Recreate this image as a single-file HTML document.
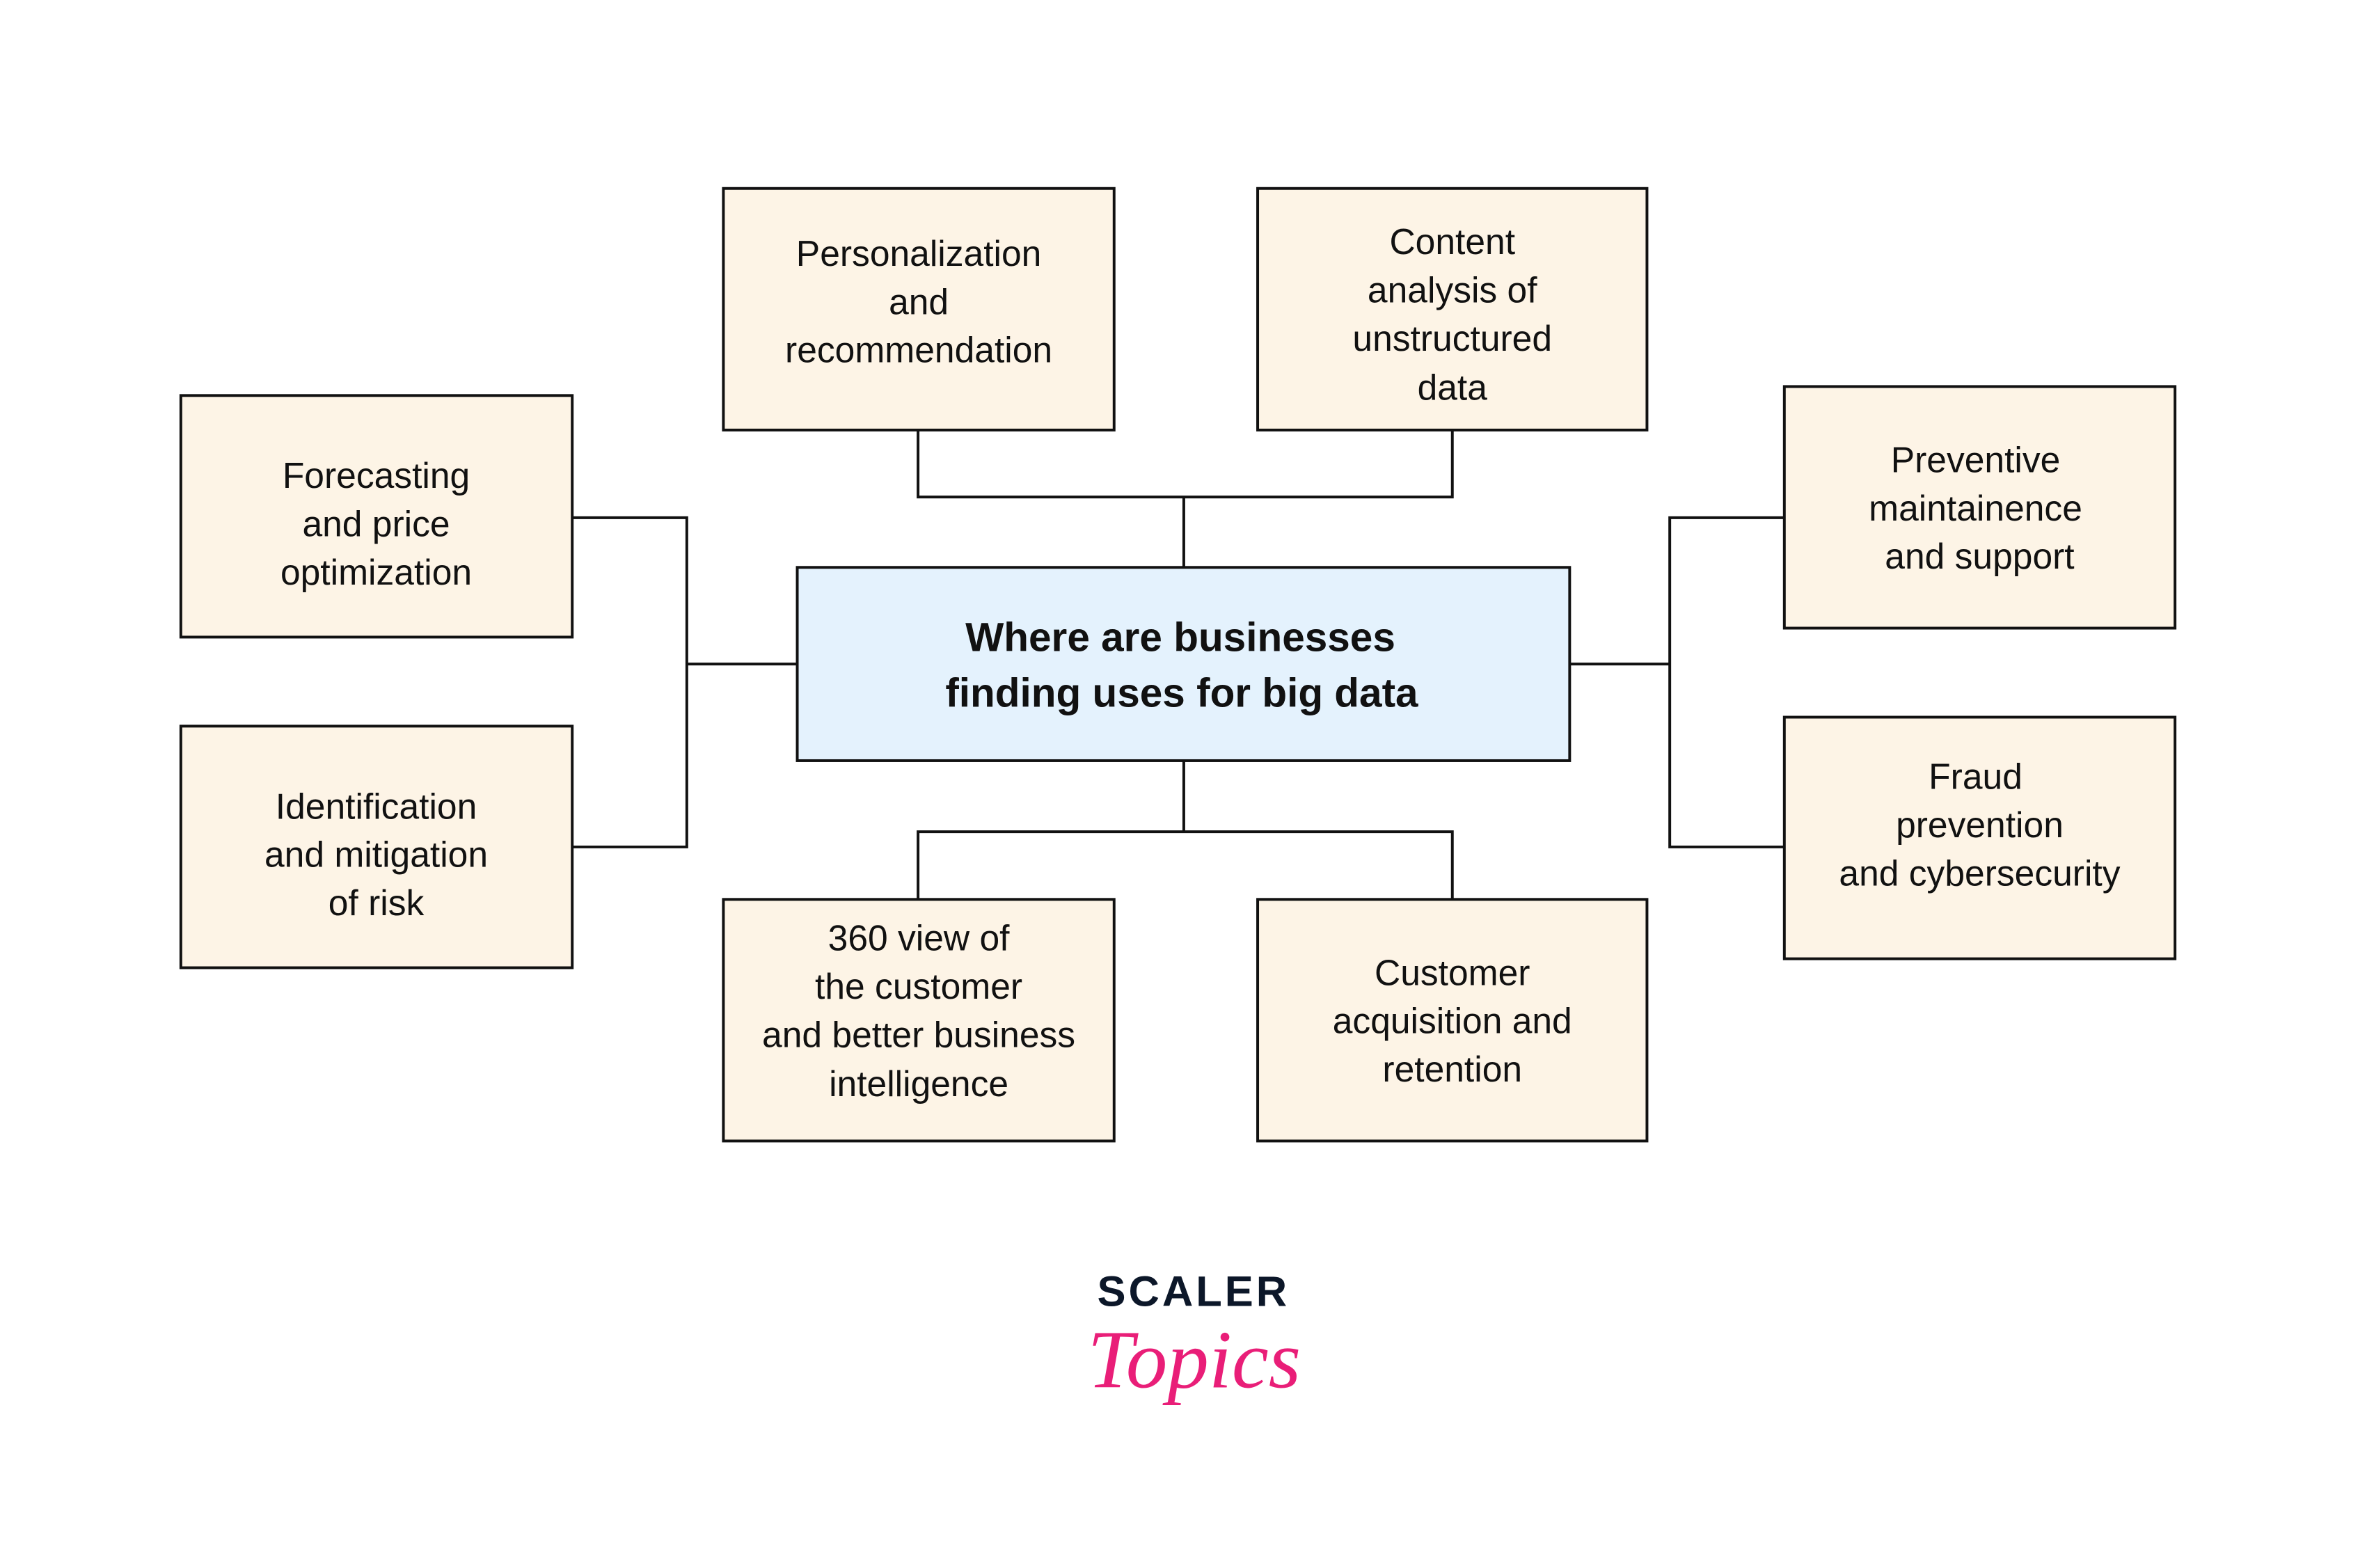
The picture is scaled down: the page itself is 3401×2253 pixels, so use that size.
<!DOCTYPE html>
<html><head><meta charset="utf-8"><style>
html,body{margin:0;padding:0;background:#fff;}
svg{display:block}
text{font-family:"Liberation Sans",sans-serif;}
.t{font-size:52px;fill:#111;text-anchor:middle;}
.b{font-size:59px;font-weight:bold;fill:#111;text-anchor:middle;}
</style></head><body>
<svg width="3401" height="2253" viewBox="0 0 3401 2253" xmlns="http://www.w3.org/2000/svg">
<rect width="3401" height="2253" fill="#fff"/>
<g transform="scale(0.9918)">
<g fill="none" stroke="#111" stroke-width="4">
<polyline points="1330,623 1330,720 2104,720 2104,623"/>
<line x1="1715" y1="720" x2="1715" y2="822"/>
<line x1="1715" y1="1102" x2="1715" y2="1205"/>
<polyline points="1330,1303 1330,1205 2104,1205 2104,1303"/>
<polyline points="829,750 995,750 995,1227 829,1227"/>
<line x1="995" y1="962" x2="1155" y2="962"/>
<polyline points="2585,750 2419,750 2419,1227 2585,1227"/>
<line x1="2274" y1="962" x2="2419" y2="962"/>
</g>
<g stroke="#111" stroke-width="4" fill="#fdf4e6">
<rect x="1048" y="273" width="566" height="350"/>
<rect x="1822" y="273" width="564" height="350"/>
<rect x="262" y="573" width="567" height="350"/>
<rect x="262" y="1052" width="567" height="350"/>
<rect x="1048" y="1303" width="566" height="350"/>
<rect x="1822" y="1303" width="564" height="350"/>
<rect x="2585" y="560" width="566" height="350"/>
<rect x="2585" y="1039" width="566" height="350"/>
<rect x="1155" y="822" width="1119" height="280" fill="#e4f2fd"/>
</g>
<text class="b" x="1710" y="943">Where are businesses</text>
<text class="b" x="1712" y="1024">finding uses for big data</text>
<text class="t"><tspan x="1331" y="385">Personalization</tspan><tspan x="1331" y="455">and</tspan><tspan x="1331" y="525">recommendation</tspan></text>
<text class="t"><tspan x="2104" y="368">Content</tspan><tspan x="2104" y="438">analysis of</tspan><tspan x="2104" y="508">unstructured</tspan><tspan x="2104" y="579">data</tspan></text>
<text class="t"><tspan x="545" y="707">Forecasting</tspan><tspan x="545" y="777">and price</tspan><tspan x="545" y="847">optimization</tspan></text>
<text class="t"><tspan x="545" y="1186">Identification</tspan><tspan x="545" y="1256">and mitigation</tspan><tspan x="545" y="1326">of risk</tspan></text>
<text class="t"><tspan x="1331" y="1377">360 view of</tspan><tspan x="1331" y="1447">the customer</tspan><tspan x="1331" y="1517">and better business</tspan><tspan x="1331" y="1588">intelligence</tspan></text>
<text class="t"><tspan x="2104" y="1427">Customer</tspan><tspan x="2104" y="1497">acquisition and</tspan><tspan x="2104" y="1567">retention</tspan></text>
<text class="t"><tspan x="2862" y="684">Preventive</tspan><tspan x="2862" y="754">maintainence</tspan><tspan x="2868" y="824">and support</tspan></text>
<text class="t"><tspan x="2862" y="1143">Fraud</tspan><tspan x="2868" y="1213">prevention</tspan><tspan x="2868" y="1283">and cybersecurity</tspan></text>
<text x="1729" y="1892" text-anchor="middle" font-size="62" font-weight="bold" letter-spacing="4" fill="#0c1729" style="font-family:'Liberation Sans',sans-serif">SCALER</text>
<text x="1730" y="2010" text-anchor="middle" font-size="120" font-style="italic" fill="#e91e78" style="font-family:'Liberation Serif',serif">Topics</text>
</g>
</svg>
</body></html>
